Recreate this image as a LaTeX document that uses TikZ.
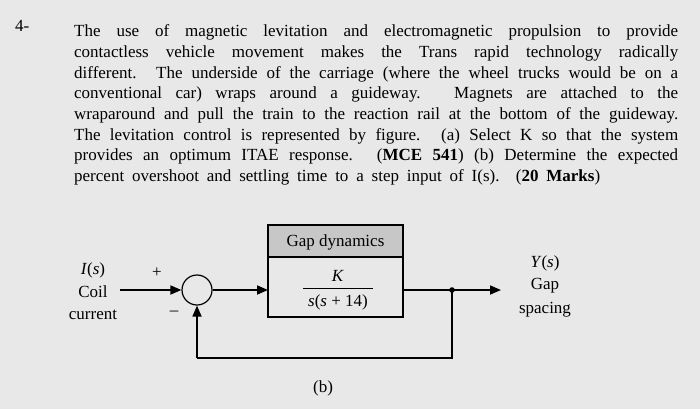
\documentclass[tikz,border=0pt]{standalone}
\usepackage{fontspec}
\setmainfont{Liberation Serif}
\usetikzlibrary{arrows.meta}
\begin{document}
\begin{tikzpicture}[x=1pt,y=-1pt,
  txt/.style={anchor=base west,inner sep=0pt,font=\fontsize{17}{19}\selectfont},
  lbl/.style={inner sep=0pt,font=\fontsize{17}{19}\selectfont},
  sig/.style={line width=1.7pt,-{Triangle[length=11pt,width=9pt]}},
  wire/.style={line width=1.7pt}]
\fill[black!9] (0,0) rectangle (700,409);
\useasboundingbox (0,0) rectangle (700,409);
\node[txt] (num) at (15,32) {4-};
\foreach \t [count=\i] in {
 {The use of magnetic levitation and electromagnetic propulsion to provide},
 {contactless vehicle movement makes the Trans rapid technology radically},
 {different. The underside of the carriage (where the wheel trucks would be on a},
 {conventional car) wraps around a guideway. Magnets are attached to the},
 {wraparound and pull the train to the reaction rail at the bottom of the guideway.},
 {The levitation control is represented by figure. (a) Select K so that the system},
 {provides an optimum ITAE response. (\textbf{MCE 541}) (b) Determine the expected}}
 \node[txt] (l\i) at (74,16+20.7*\i) {\makebox[604pt][s]{\t}};
\node[txt] (l8) at (74,16+20.7*8) {\makebox[526pt][s]{percent overshoot and settling time to a step input of I(s). (\textbf{20 Marks})}};
% block
\fill[black!22] (268,225) rectangle (403,257);
\draw[line width=1.2pt] (268,225) rectangle (403,317);
\draw[line width=1.2pt] (268,257) -- (403,257);
\node[lbl] (hdr) at (335.5,242) {Gap dynamics};
\node[lbl] (K) at (338,276) {\textit{K}};
\draw[line width=0.8pt] (303,288) -- (373,288);
\node[lbl] (den) at (338,302) {\textit{s}(\textit{s} + 14)};
\coordinate (boxw) at (268,290);
\coordinate (boxe) at (403,290);
\node[draw,circle,line width=1.2pt,minimum size=30pt,inner sep=0pt] (sum) at (197,290) {};
\coordinate (in) at (120,290);
\coordinate (out) at (501,290);
\coordinate (junc) at (452,290);
\coordinate (fb1) at (452,358);
\coordinate (fb2) at (197,358);
\draw[sig] (in) -- (sum.west);
\draw[sig] (sum.east) -- (boxw);
\draw[sig] (boxe) -- (out);
\fill (junc) circle (2.8pt);
\draw[wire] (junc) -- (fb1) -- (fb2);
\draw[sig] (fb2) -- (sum.south);
\node[lbl] (plus) at (157,273) {+};
\node[lbl] (minus) at (174,313) {\textendash};
\node[lbl] (is) at (93,270) {\textit{I}(\textit{s})};
\node[lbl] (coil) at (93,292) {Coil};
\node[lbl] (cur) at (93,315) {current};
\node[lbl] (ys) at (545,263) {\textit{Y}(\textit{s})};
\node[lbl] (gap) at (545,286) {Gap};
\node[lbl] (sp) at (545,310) {spacing};
\node[lbl] (b) at (323,388) {(b)};
\end{tikzpicture}
\end{document}
